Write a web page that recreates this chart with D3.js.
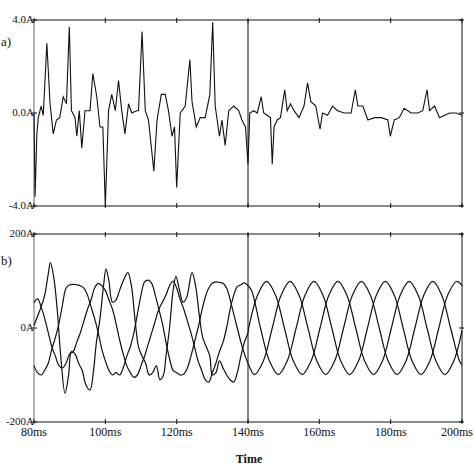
<!DOCTYPE html>
<html><head><meta charset="utf-8">
<script src="https://cdn.jsdelivr.net/npm/d3@7"></script>
<style>body{margin:0;background:#fff}text{font-family:"Liberation Serif",serif;fill:#111}</style>
</head><body><svg id="c" width="474" height="469"></svg>
<script>
// ---- data ----
const xTicks = [80,100,120,140,160,180,200];
const topTicks = [{v:4,l:"4.0A"},{v:0,l:"0.0A"},{v:-4,l:"-4.0A"}];
const botTicks = [{v:200,l:"200A"},{v:0,l:"0A"},{v:-200,l:"-200A"}];
// panel a) current [ms, A]
const seriesA = [[80,0],[80.3,-3.6],[80.8,-0.9],[81.2,-0.2],[82,0.3],[82.6,-0.1],[83.6,3.0],[84.5,0.4],[85.4,-0.9],[86.3,-0.3],[87.2,-0.2],[88.2,0.7],[89.1,0.4],[89.9,3.7],[90.5,0.1],[91.5,-0.2],[92,-1.0],[92.7,0.1],[93.4,-1.5],[94.3,0.1],[95.7,0.1],[96.5,1.7],[97.6,0.7],[98.5,-0.6],[99.3,-0.6],[100,-4.0],[100.9,0.1],[101.8,0.8],[102.8,0.1],[103.7,1.4],[104.6,0.1],[105.5,-0.9],[106.5,0.4],[107.4,0],[108.8,0.1],[109.3,0.1],[110.3,3.5],[111.2,0.1],[112.1,-0.3],[113.6,-2.5],[114.5,-0.3],[115.7,0.8],[116.8,0.8],[117.7,0.1],[118.7,-1.0],[119.4,-0.6],[120,-3.2],[121,0],[122.4,0.3],[123.7,2.3],[124.3,0.5],[125.5,-0.6],[126.6,-0.2],[128,-0.2],[129.3,0.8],[130.1,3.9],[130.8,0.3],[132,-1.0],[132.7,-0.3],[133.6,-1.4],[134.6,0.1],[136,0.3],[137.4,0.1],[138.3,-0.3],[139.3,-0.6],[140,-2.2],[140.5,0],[141.6,0.1],[142.6,0],[143.7,0.7],[144.4,0],[145.4,-0.1],[146.3,-0.2],[146.8,-2.2],[147.3,-0.6],[148.2,-0.3],[149.1,-0.2],[150.3,1.0],[151,0.1],[151.9,0.4],[152.9,0.1],[154.3,-0.2],[155.7,0.3],[156.7,1.3],[157.6,0.5],[159,0.3],[160.2,-0.7],[160.9,-0.0],[162.3,-0.1],[163.7,0.3],[165.1,0.1],[167,-0.0],[168.9,-0.0],[170.1,1.0],[170.8,0.3],[172.2,0.3],[173.6,-0.3],[175.5,-0.2],[177.4,-0.2],[179.2,-0.3],[179.9,-1.0],[181,-0.3],[182.4,-0.2],[183.8,0.2],[185.7,0.0],[187.6,-0.0],[189,0.1],[190.2,1.0],[190.9,0.1],[192.3,0.3],[193.7,-0.2],[195.1,-0.1],[196.5,-0.0],[198.4,0.0],[200,-0.1]];
// panel b) three phase currents [ms, A]
const phaseX = [[80,-80],[81,-95],[82,-100],[83,-90],[84,-75],[85,-45],[86,-20],[87,10],[88,50],[89,85],[90,92],[91,93],[92,92],[93,90],[94,85],[95,70],[96,45],[97,20],[98,-10],[99,-45],[100,-70],[101,-90],[102,-100],[103,-95],[104,-100],[105,-85],[106,-60],[107,-40],[108,-10],[109,30],[110,70],[111,98],[112,102],[113,95],[114,70],[115,40],[116,10],[117,-30],[118,-65],[119,-90],[120,-95],[121,-100],[122,-98],[123,-85],[124,-60],[125,-30],[126,0],[127,35],[128,65],[129,85],[130,95],[131,98],[132,97],[133,95],[134,85],[135,60],[136,30],[137,0],[138,-30],[139,-55],[140,-75],[141.8,-99],[144.3,-70],[146.8,0],[149.3,70],[151.8,99],[154.3,70],[156.8,0],[159.3,-70],[161.8,-99],[164.3,-70],[166.8,0],[169.3,70],[171.8,99],[174.3,70],[176.8,0],[179.3,-70],[181.8,-99],[184.3,-70],[186.8,0],[189.3,70],[191.8,99],[194.3,70],[196.8,0],[199.3,-70],[200,-78]];
const phaseY = [[80,54],[81,62],[82,45],[83,20],[84,-10],[85,-40],[86,-60],[87,-80],[88,-85],[89,-75],[90,-55],[91,-50],[92,-30],[93,-10],[94,15],[95,40],[96,60],[97,85],[98,95],[99,90],[100,80],[101,60],[102,40],[103,10],[104,-25],[105,-55],[106,-80],[107,-95],[108,-105],[109,-100],[110,-80],[111,-60],[112,-35],[113,-10],[114,15],[115,40],[116,55],[117,70],[118,90],[119,100],[120,85],[121,60],[122,40],[123,15],[124,-10],[125,-40],[126,-70],[127,-90],[128,-110],[129,-115],[130,-95],[131,-75],[132,-50],[133,-30],[134,0],[135,40],[136,70],[137,88],[138,92],[139,96],[140,90],[141,80],[143.5,0],[146,-70],[148.5,-99],[151,-70],[153.5,0],[156,70],[158.5,99],[161,70],[163.5,0],[166,-70],[168.5,-99],[171,-70],[173.5,0],[176,70],[178.5,99],[181,70],[183.5,0],[186,-70],[188.5,-99],[191,-70],[193.5,0],[196,70],[198.5,99],[200,90]];
const phaseZ = [[80,5],[81,25],[82,45],[83,70],[84,115],[84.6,139],[85.5,110],[86.5,40],[87.5,-60],[88.7,-139],[89.7,-100],[90.5,-50],[91.5,-55],[92.5,-75],[93.5,-90],[94.5,-120],[95.7,-132],[96.7,-90],[97.5,-30],[98.5,20],[99.5,90],[100.2,126],[101,100],[102,55],[103,60],[104,80],[105,100],[106.3,118],[107.3,90],[108.3,20],[109.3,-40],[110.3,-60],[111.3,-75],[112.3,-100],[113.3,-95],[114.3,-80],[115.3,-110],[116.3,-100],[117,-60],[118,0],[119,80],[119.8,110],[120.8,80],[121.8,55],[122.8,65],[124.3,118],[125.3,90],[126.3,30],[127.3,-20],[128.3,-40],[129.3,-60],[130,-100],[131,-95],[132,-70],[133,-85],[134,-100],[135,-110],[136,-115],[137,-95],[138,-60],[139,-30],[140,-10],[140.2,0],[142.7,70],[145.2,99],[147.7,70],[150.2,0],[152.7,-70],[155.2,-99],[157.7,-70],[160.2,0],[162.7,70],[165.2,99],[167.7,70],[170.2,0],[172.7,-70],[175.2,-99],[177.7,-70],[180.2,0],[182.7,70],[185.2,99],[187.7,70],[190.2,0],[192.7,-70],[195.2,-99],[197.7,-70],[200,-5]];

// ---- drawing ----
const svg = d3.select("#c");
const x = d3.scaleLinear().domain([80,200]).range([34,462]);
const yA = d3.scaleLinear().domain([-4,4]).range([206,20]);
const yB = d3.scaleLinear().domain([-200,200]).range([422,234]);

function panel(y, ticks, label, ly){
  const g = svg.append("g");
  const [y0,y1] = y.range();
  g.append("line").attr("x1",34).attr("x2",34).attr("y1",y1).attr("y2",y0).attr("stroke","#888").attr("stroke-width",1.3);
  g.append("line").attr("x1",462).attr("x2",462).attr("y1",y1).attr("y2",y0).attr("stroke","#111");
  g.append("line").attr("x1",34).attr("x2",462).attr("y1",y1).attr("y2",y1).attr("stroke","#111");
  g.append("line").attr("x1",34).attr("x2",462).attr("y1",y0).attr("y2",y0).attr("stroke","#111");
  g.append("line").attr("x1",x(140)).attr("x2",x(140)).attr("y1",y1).attr("y2",y0).attr("stroke","#111");
  xTicks.forEach(t=>{
    g.append("line").attr("x1",x(t)).attr("x2",x(t)).attr("y1",y1-2).attr("y2",y1+3).attr("stroke","#111");
    g.append("line").attr("x1",x(t)).attr("x2",x(t)).attr("y1",y0-3).attr("y2",y0+2).attr("stroke","#111");
  });
  ticks.forEach(t=>{
    g.append("line").attr("x1",32).attr("x2",37).attr("y1",y(t.v)).attr("y2",y(t.v)).attr("stroke","#111");
    g.append("line").attr("x1",459).attr("x2",464).attr("y1",y(t.v)).attr("y2",y(t.v)).attr("stroke","#111");
    g.append("text").attr("x",34).attr("y",y(t.v)+3).attr("text-anchor","end").attr("font-size",11).text(t.l);
  });
  g.append("text").attr("x",1).attr("y",ly).attr("font-size",13).text(label);
}
panel(yA, topTicks, "a)", 46);
panel(yB, botTicks, "b)", 265);

const lineA = d3.line().x(d=>x(d[0])).y(d=>yA(d[1]));
svg.append("path").attr("d",lineA(seriesA)).attr("fill","none").attr("stroke","#111").attr("stroke-width",1.1);

const lineB = d3.line().x(d=>x(d[0])).y(d=>yB(d[1])).curve(d3.curveCatmullRom.alpha(0.5));
[phaseX,phaseY,phaseZ].forEach(p=>{
  svg.append("path").attr("d",lineB(p)).attr("fill","none").attr("stroke","#111").attr("stroke-width",1.2);
});

xTicks.forEach((t,i)=>{
  const last = i===xTicks.length-1;
  svg.append("text").attr("x",last?473:x(t)).attr("y",436).attr("text-anchor",last?"end":"middle").attr("font-size",12).text(t+"ms");
});
svg.append("text").attr("x",249).attr("y",463).attr("text-anchor","middle").attr("font-size",12).attr("font-weight","bold").text("Time");
</script></body></html>
